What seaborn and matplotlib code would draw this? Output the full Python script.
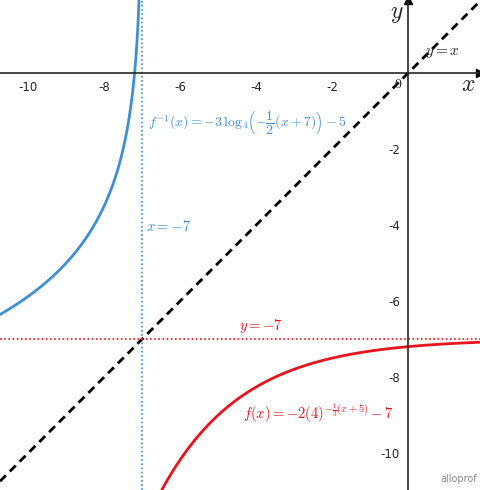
import numpy as np
import pandas as pd
import matplotlib
matplotlib.use("Agg")
import matplotlib.pyplot as plt
import seaborn as sns

sns.set_style("white")
plt.rcParams['font.family'] = ['DejaVu Sans']
plt.rcParams['mathtext.fontset'] = 'cm'
plt.rcParams['axes.unicode_minus'] = False

xticks = [-10, -8, -6, -4, -2]
yticks = [-2, -4, -6, -8, -10]
asym_x = -7
asym_y = -7
xmin, xmax = -10.74, 1.89
ymin, ymax = -10.97, 1.92

blue = "#3f8fd2"
red = "#e8141b"

fig = plt.figure(figsize=(4.8, 4.9), dpi=100)
ax = fig.add_axes([0, 0, 1, 1])

xf = np.linspace(xmin, xmax, 400)
df_f = pd.DataFrame({"x": xf, "y": -2 * 4 ** (-(xf + 5) / 3) - 7})
df_f = df_f[df_f.y > ymin - 0.5]
xi = np.linspace(xmin, -7.0001, 2000)
df_i = pd.DataFrame({"x": xi, "y": -3 * np.log(-(xi + 7) / 2) / np.log(4) - 5})
df_i = df_i[df_i.y < ymax + 1]
xl = np.array([xmin, xmax])
df_l = pd.DataFrame({"x": xl, "y": xl})

sns.lineplot(data=df_l, x="x", y="y", ax=ax, color="black", lw=2, linestyle=(0, (3, 2)), sort=False)
sns.lineplot(data=df_f, x="x", y="y", ax=ax, color=red, lw=2, sort=False)
sns.lineplot(data=df_i, x="x", y="y", ax=ax, color=blue, lw=2, sort=False)
ax.axvline(asym_x, color=blue, lw=1.2, linestyle=(0, (1, 1.5)))
ax.axhline(asym_y, color=red, lw=1.2, linestyle=(0, (1, 1.5)))

ax.set_xlim(xmin, xmax)
ax.set_ylim(ymin, ymax)
for s in ["top", "right"]:
    ax.spines[s].set_visible(False)
ax.spines["left"].set_position(("data", 0))
ax.spines["bottom"].set_position(("data", 0))
ax.spines["left"].set_linewidth(1.2)
ax.spines["bottom"].set_linewidth(1.2)
ax.set_xticks(xticks)
ax.set_yticks(yticks)
ax.tick_params(axis="both", direction="inout", length=5, labelsize=8.5, width=1)
ax.set_xlabel("")
ax.set_ylabel("")
ax.plot(xmax, 0, ">k", markersize=6, clip_on=False)
ax.plot(0, ymax, "^k", markersize=6, clip_on=False)
ax.text(xmax - 0.3, -0.3, "$x$", fontsize=17, ha="center", va="center")
ax.text(-0.3, ymax - 0.35, "$y$", fontsize=17, ha="center", va="center")
ax.text(-0.25, -0.3, "$0$", fontsize=10, ha="center", va="center")
ax.text(0.9, 0.55, "$y = x$", fontsize=11, ha="center", va="center")
ax.text(-6.85, -1.3, r"$f^{-1}(x) = -3\,\log_4\!\left(-\dfrac{1}{2}(x+7)\right) - 5$",
        fontsize=10, color=blue, ha="left", va="center")
ax.text(-6.9, -4.05, "$x = -7$", fontsize=10.5, color=blue, ha="left", va="center")
ax.text(-4.45, -6.65, "$y = -7$", fontsize=10.5, color=red, ha="left", va="center")
ax.text(-4.35, -8.95, r"$f(x) = -2(4)^{-\frac{1}{3}(x+5)} - 7$", fontsize=10.5, color=red, ha="left", va="center")
ax.text(xmax - 0.55, ymin + 0.3, "alloprof", fontsize=7, color="#888888", ha="center", va="center")

fig.savefig("out.png", dpi=100)
